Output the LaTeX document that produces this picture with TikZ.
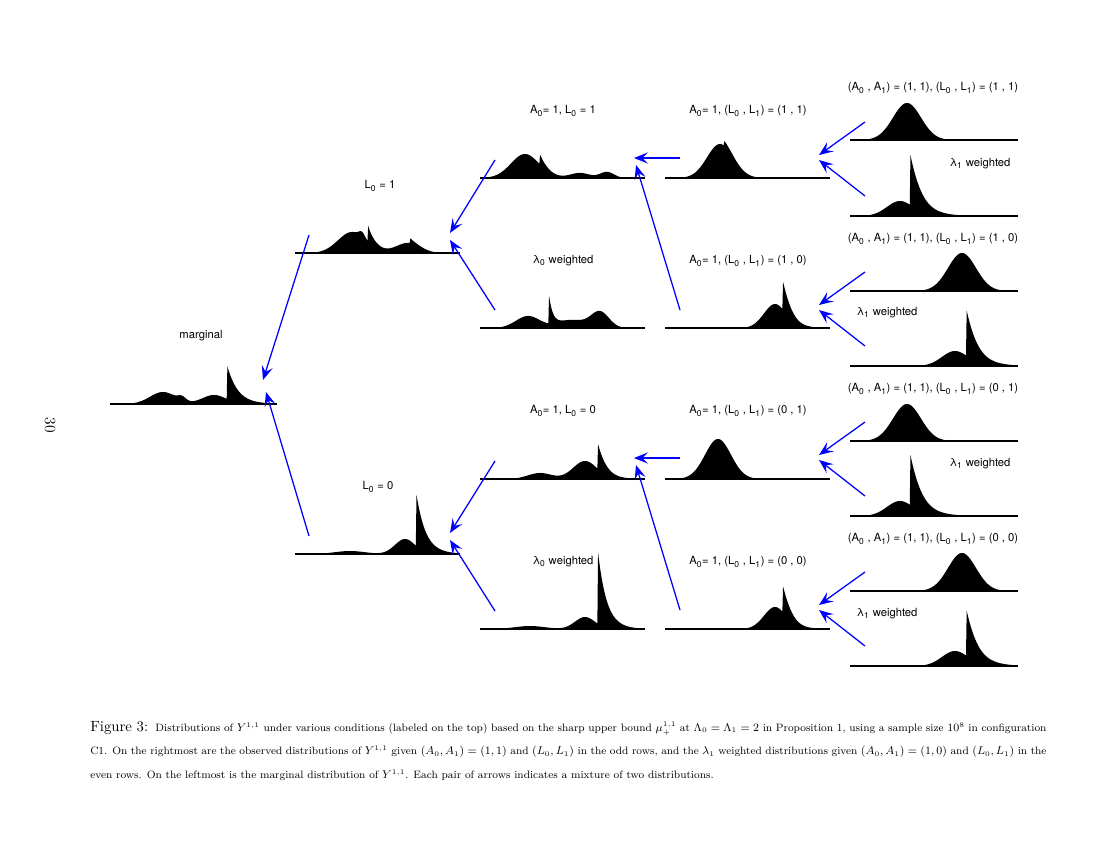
\documentclass[tikz,border=0pt]{standalone}
\usepackage{fontspec}
\newfontfamily\hv{TeX Gyre Heros}
\usetikzlibrary{arrows.meta}
\newcommand\sbx[1]{\textsubscript{#1}}
\newcommand\distr[5]{%
  \draw[line width=0.9pt] (#1,#3) -- (#2,#3);
  \fill[black] plot[domain=#1:#2,samples=240] (\x,{#3-(#4)}) -- cycle;
  \coordinate (#5) at ({(#1+#2)/2},#3);}
\newcommand\gs[3]{#3*exp(-((\x-#1)/#2)^2/2)}
\newcommand\spk[3]{(\x>=#1)*#3*exp(-max(\x-#1,0)/#2)}
\tikzset{lab/.style={font=\hv\fontsize{8}{9}\selectfont,inner sep=0pt},
  arr/.style={blue,line width=0.9pt,-{Stealth[length=10pt,width=8pt,inset=4pt]}}}
\begin{document}
\begin{tikzpicture}[x=0.025cm,y=-0.025cm]
\useasboundingbox (0,0) rectangle (1100,850);
% column 1
\distr{110}{277}{404}{\gs{163}{13}{12}+\gs{182}{4}{4}+\gs{214}{12}{9}+\spk{227}{11}{34}}{m}
\node[lab] (tm) at (201,336) {marginal};
% column 2
\distr{295}{460}{253}{\gs{352}{14}{21}+\gs{362}{3}{5}+\spk{368}{8}{16}+\gs{408}{12}{10}+\spk{410}{6}{5}}{c1}
\node[lab] (t1) at (380,186) {L\sbx{0} = 1};
\distr{295}{460}{554}{\gs{350}{15}{3}+\gs{405}{10}{15}+\spk{416}{10}{54}}{c2}
\node[lab] (t2) at (378,487) {L\sbx{0} = 0};
% column 3
\distr{480}{645}{178}{\gs{525}{14}{24}+\spk{540}{8}{10}+\gs{580}{10}{5}+\gs{607}{7}{6}}{d1}
\node[lab] (u1) at (563,111) {A\sbx{0}= 1, L\sbx{0} = 1};
\distr{480}{645}{328}{\gs{528}{12}{12}+\spk{549}{4}{28}+\gs{572}{14}{8}+\gs{600}{9}{16}}{d2}
\node[lab] (u2) at (563,261) {λ\sbx{0} weighted};
\distr{480}{645}{479}{\gs{540}{12}{6}+\gs{585}{12}{18}+\spk{598}{9}{25}}{d3}
\node[lab] (u3) at (563,411) {A\sbx{0}= 1, L\sbx{0} = 0};
\distr{480}{645}{629}{\gs{530}{15}{3}+\gs{585}{10}{12}+\spk{598}{9}{72}}{d4}
\node[lab] (u4) at (563,562) {λ\sbx{0} weighted};
% column 4
\distr{665}{830}{178}{\gs{720}{13}{34}+\spk{724}{10}{5}}{e1}
\node[lab] (v1) at (748,111) {A\sbx{0}= 1, (L\sbx{0} , L\sbx{1}) = (1 , 1)};
\distr{665}{830}{328}{\gs{775}{11}{24}+\spk{783}{9}{28}}{e2}
\node[lab] (v2) at (748,261) {A\sbx{0}= 1, (L\sbx{0} , L\sbx{1}) = (1 , 0)};
\distr{665}{830}{479}{\gs{718}{13}{40}}{e3}
\node[lab] (v3) at (748,411) {A\sbx{0}= 1, (L\sbx{0} , L\sbx{1}) = (0 , 1)};
\distr{665}{830}{629}{\gs{775}{11}{22}+\spk{783}{9}{26}}{e4}
\node[lab] (v4) at (748,562) {A\sbx{0}= 1, (L\sbx{0} , L\sbx{1}) = (0 , 0)};
% column 5
\distr{850}{1018}{140}{\gs{907}{14}{37}}{f1}
\distr{850}{1018}{216}{\gs{900}{13}{15}+\spk{910}{12}{52}}{f2}
\distr{850}{1018}{291}{\gs{962}{14}{38}}{f3}
\distr{850}{1018}{366}{\gs{955}{13}{15}+\spk{966}{12}{48}}{f4}
\distr{850}{1018}{441}{\gs{907}{14}{37}}{f5}
\distr{850}{1018}{516}{\gs{900}{13}{15}+\spk{910}{12}{52}}{f6}
\distr{850}{1018}{591}{\gs{962}{14}{38}}{f7}
\distr{850}{1018}{666}{\gs{955}{13}{15}+\spk{966}{12}{48}}{f8}
\node[lab] (w1) at (933,88) {(A\sbx{0} , A\sbx{1}) = (1, 1), (L\sbx{0} , L\sbx{1}) = (1 , 1)};
\node[lab] (w2) at (933,239) {(A\sbx{0} , A\sbx{1}) = (1, 1), (L\sbx{0} , L\sbx{1}) = (1 , 0)};
\node[lab] (w3) at (933,389) {(A\sbx{0} , A\sbx{1}) = (1, 1), (L\sbx{0} , L\sbx{1}) = (0 , 1)};
\node[lab] (w4) at (933,539) {(A\sbx{0} , A\sbx{1}) = (1, 1), (L\sbx{0} , L\sbx{1}) = (0 , 0)};
\node[lab] (x1) at (980,164) {λ\sbx{1} weighted};
\node[lab] (x2) at (887,313) {λ\sbx{1} weighted};
\node[lab] (x3) at (980,464) {λ\sbx{1} weighted};
\node[lab] (x4) at (887,614) {λ\sbx{1} weighted};
% arrow coordinates
\coordinate (a1s) at (309,235); \coordinate (a1e) at (263,380);
\coordinate (a2s) at (309,536); \coordinate (a2e) at (266,392);
\coordinate (b1s) at (495,160); \coordinate (b1e) at (450,233);
\coordinate (b2s) at (495,310); \coordinate (b2e) at (450,240);
\coordinate (b3s) at (495,461); \coordinate (b3e) at (450,533);
\coordinate (b4s) at (495,611); \coordinate (b4e) at (450,540);
\coordinate (g1s) at (680,158); \coordinate (g1e) at (634,158);
\coordinate (g2s) at (680,310); \coordinate (g2e) at (636,165);
\coordinate (g3s) at (680,458); \coordinate (g3e) at (634,458);
\coordinate (g4s) at (680,610); \coordinate (g4e) at (636,465);
\foreach \k/\yy in {1/0,2/150,3/300,4/450}{
  \coordinate (h\k as) at (865,122+\yy); \coordinate (h\k ae) at (819,155+\yy);
  \coordinate (h\k bs) at (865,196+\yy); \coordinate (h\k be) at (819,160+\yy);
  \draw[arr] (h\k as) -- (h\k ae);
  \draw[arr] (h\k bs) -- (h\k be);
}
\foreach \p in {a1,a2,b1,b2,b3,b4,g1,g2,g3,g4}{\draw[arr] (\p s) -- (\p e);}
% page number
\node[rotate=-90,font=\fontsize{11}{12}\selectfont] (pg) at (50,425) {30};
% caption
\node[anchor=north west,inner sep=0pt,text width=23.9cm,align=justify,
  font=\fontsize{7.6}{16.6}\selectfont] (cap) at (90,721)
{{\fontsize{10.5}{12}\selectfont Figure 3:}\ \ Distributions of $Y^{1,1}$ under various conditions (labeled on the top) based on the sharp upper bound $\mu_+^{1,1}$ at $\Lambda_0=\Lambda_1=2$ in Proposition 1, using a sample size $10^8$ in configuration C1. On the rightmost are the observed distributions of $Y^{1,1}$ given $(A_0,A_1)=(1,1)$ and $(L_0,L_1)$ in the odd rows, and the $\lambda_1$ weighted distributions given $(A_0,A_1)=(1,0)$ and $(L_0,L_1)$ in the even rows. On the leftmost is the marginal distribution of $Y^{1,1}$. Each pair of arrows indicates a mixture of two distributions.};
\end{tikzpicture}
\end{document}
